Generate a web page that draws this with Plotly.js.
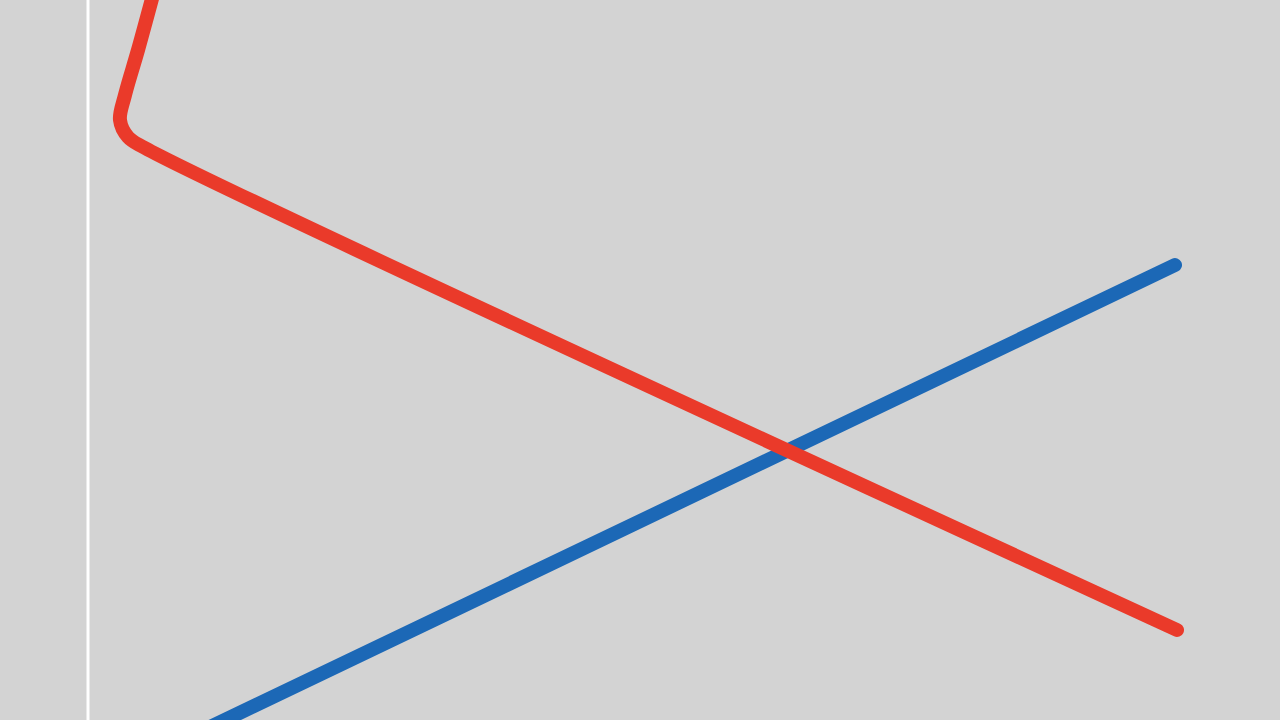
<!DOCTYPE html>
<html><head><meta charset="utf-8">
<script src="https://cdn.plot.ly/plotly-3.0.1.min.js"></script>
<style>
html,body{margin:0;padding:0;background:#d3d3d3;}
#chart{width:1280px;height:720px;}
.scatterlayer path.js-line{stroke-linecap:round;stroke-linejoin:round;}
</style></head>
<body><div id="chart"></div>
<script>
// Series values (plot units)
const redX = [153, 138, 125, 120, 128, 145, 1177];
const redY = [-5, 50, 95, 120, 137, 148, 630];
const blueX = [183, 1175];
const blueY = [740, 265];
const axisLineX = [88, 88];
const axisLineY = [0, 720];

const traces = [
  {x: axisLineX, y: axisLineY, mode: 'lines', line: {color: '#ffffff', width: 3}, hoverinfo: 'skip'},
  {x: blueX, y: blueY, mode: 'lines', line: {color: '#1c68b6', width: 14}, hoverinfo: 'skip', cliponaxis: true},
  {x: redX, y: redY, mode: 'lines', line: {color: '#ea3a2a', width: 14, shape: 'spline', smoothing: 1}, hoverinfo: 'skip'}
];
const layout = {
  width: 1280, height: 720,
  margin: {l: 0, r: 0, t: 0, b: 0},
  paper_bgcolor: '#d3d3d3', plot_bgcolor: '#d3d3d3',
  showlegend: false,
  xaxis: {range: [0, 1280], visible: false, fixedrange: true},
  yaxis: {range: [720, 0], visible: false, fixedrange: true}
};
Plotly.newPlot('chart', traces, layout, {displayModeBar: false, staticPlot: true});
</script></body></html>
